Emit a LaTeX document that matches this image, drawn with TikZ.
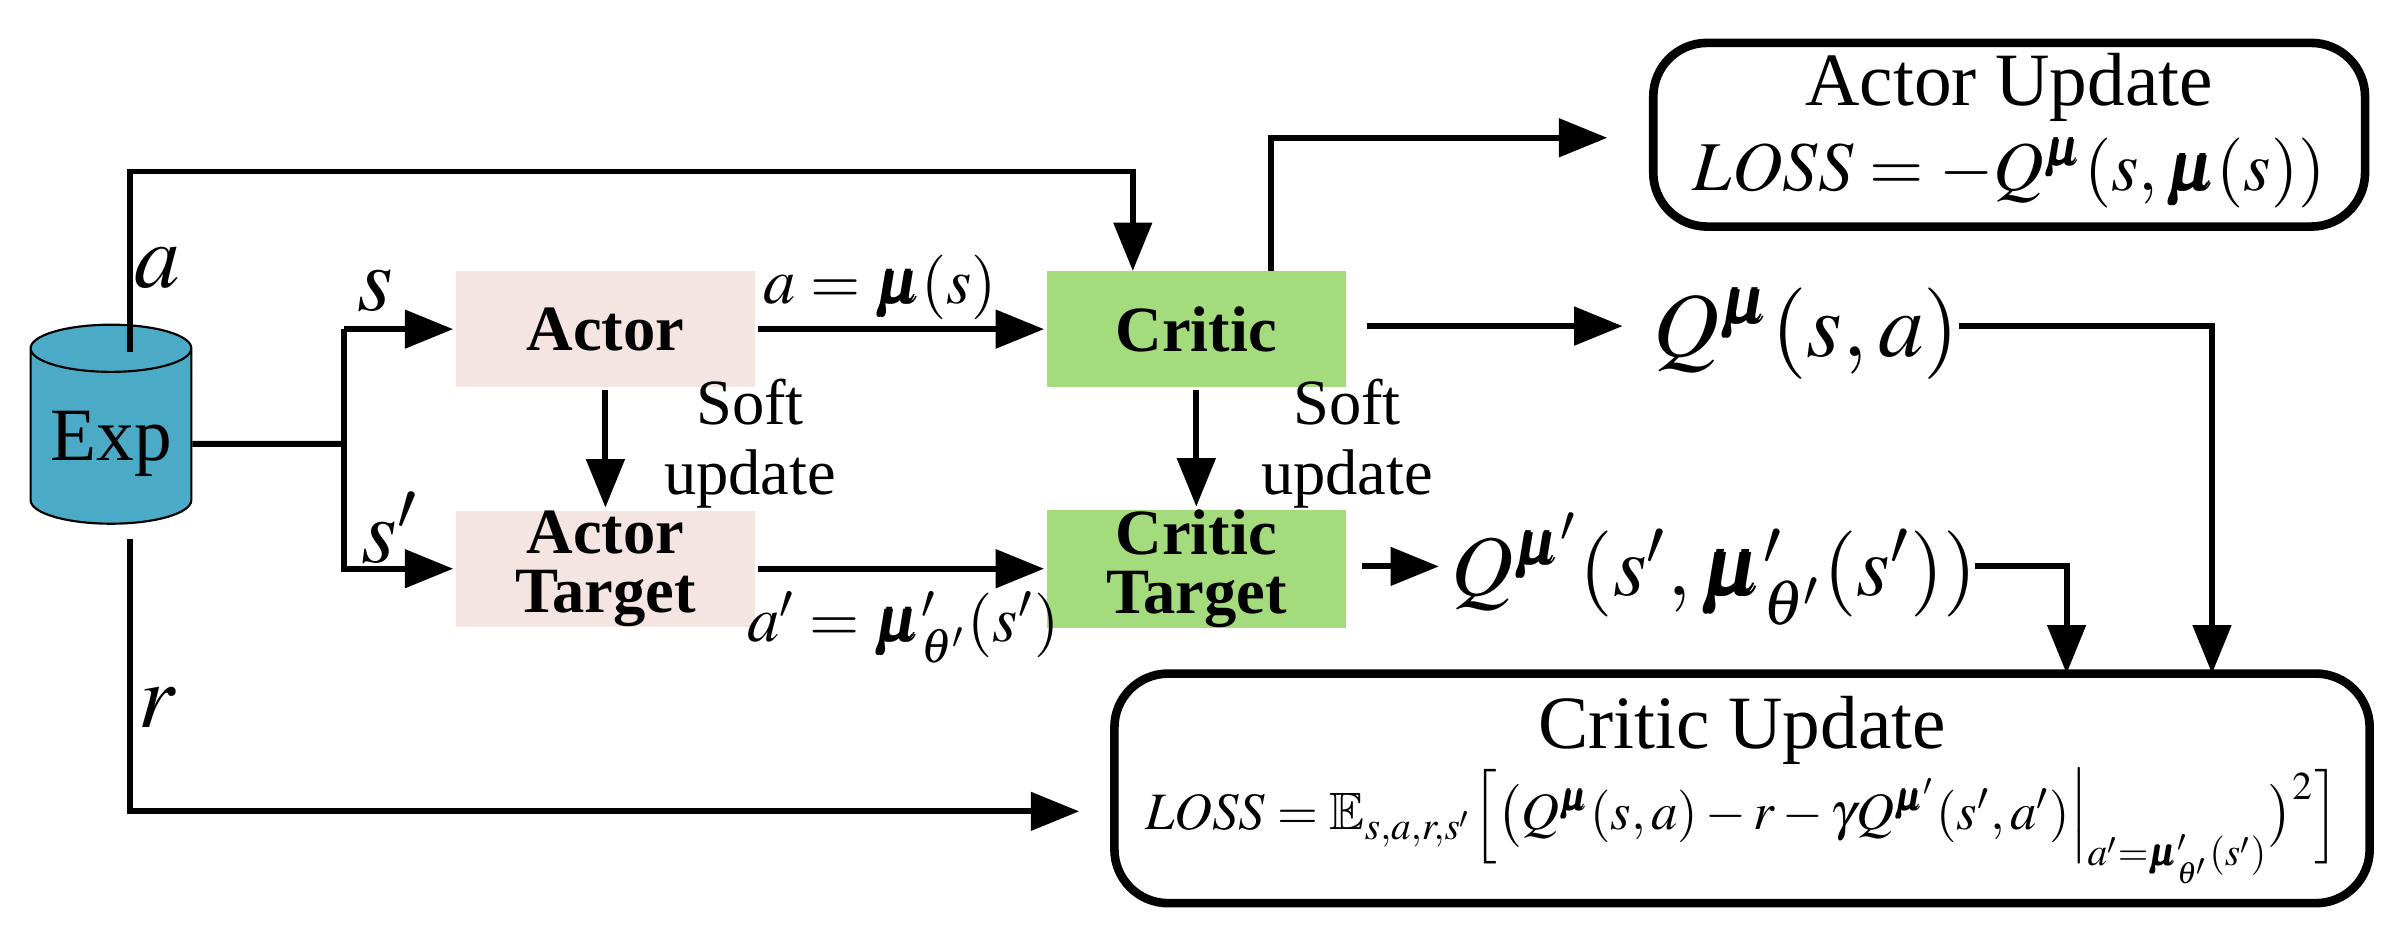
\documentclass[tikz,border=0pt]{standalone}
\usepackage{amsmath,amssymb}
\usepackage{mathptmx}
\usepackage{bm}
\usepackage{graphicx}
\usepackage{fontspec}
\setmainfont{Liberation Serif}
\usetikzlibrary{shapes.geometric,arrows.meta}
\definecolor{pinkb}{HTML}{F4E4E2}
\definecolor{greenb}{HTML}{A4DB7C}
\definecolor{cyl}{HTML}{4BABC6}
\begin{document}
\begin{tikzpicture}[
  line width=1.1pt, >={Triangle[length=9pt,width=7pt]},
  box/.style={minimum width=1.95cm,minimum height=0.76cm,inner sep=0pt,font=\fontsize{12}{13}\selectfont\bfseries,align=center},
  upd/.style={draw,line width=1.6pt,rounded corners=10pt,inner sep=0pt},
  lbl/.style={font=\fontsize{12}{13}\selectfont,align=center},
  big/.style={font=\fontsize{17}{18}\selectfont}]
\useasboundingbox (0,0) rectangle (15.6,-6.05);
% cylinder
\node[cylinder,shape border rotate=90,draw,line width=0.4pt,fill=cyl,aspect=0.3,minimum width=1.05cm,minimum height=1.3cm,font=\fontsize{14}{15}\selectfont] (exp) at (0.725,-2.9) {Exp};
\node[box,fill=pinkb] (actor) at (3.955,-2.15) {Actor};
\node[box,fill=pinkb] (actt) at (3.955,-3.715) {Actor\\[-2pt]Target};
\node[box,fill=greenb] (critic) at (7.815,-2.15) {Critic};
\node[box,fill=greenb] (critt) at (7.815,-3.715) {Critic\\[-2pt]Target};
\node[upd,minimum width=4.65cm,minimum height=1.2cm] (aupd) at (13.125,-0.88) {};
\node[lbl,font=\fontsize{14}{15}\selectfont] (at) at (13.125,-0.57) {Actor Update};
\node[font=\fontsize{13}{14}\selectfont] (af) at (13.125,-1.13) {$LOSS=-Q^{\bm\mu}(s,\bm\mu(s))$};
\node[upd,minimum width=8.2cm,minimum height=1.5cm] (cupd) at (11.38,-5.15) {};
\node[lbl,font=\fontsize{14}{15}\selectfont] (ct) at (11.38,-4.77) {Critic Update};
\node[font=\fontsize{12}{13}\selectfont,inner sep=0pt] (cf) at (11.38,-5.4) {\resizebox{7.8cm}{!}{$LOSS=\mathbb{E}_{s,a,r,s'}\Bigl[\bigl(Q^{\bm\mu}(s,a)-r-\gamma Q^{\bm\mu'}(s',a')\Big|_{a'=\bm\mu'_{\theta'}(s')}\bigr)^2\Bigr]$}};
\node[big] (q1) at (11.8,-2.18) {$Q^{\bm\mu}(s,a)$};
\node[font=\fontsize{16}{17}\selectfont] (q2) at (11.2,-3.72) {$Q^{\bm\mu'}(s',\bm\mu'_{\theta'}(s'))$};
% labels
\node[big] at (1.03,-1.75) {$a$};
\node[big] at (1.03,-4.62) {$r$};
\node[big] at (2.45,-1.9) {$s$};
\node[big] at (2.55,-3.45) {$s'$};
\node[lbl] at (5.75,-1.88) {$a=\bm\mu(s)$};
\node[lbl] at (5.9,-4.1) {$a'=\bm\mu'_{\theta'}(s')$};
\node[lbl] at (4.9,-2.9) {Soft\\update};
\node[lbl] at (8.8,-2.9) {Soft\\update};
\coordinate (br) at (2.25,-2.9);
\draw (exp.east) -- (br);
\draw[->] (2.25,-2.15) -- (actor.west);
\draw[->] (2.25,-2.15) -- (2.25,-3.715) -- (actt.west);
\draw[->] (0.85,-2.3) |- (7.4,-1.12) -- (7.4,-1.77);
\draw[->] (0.85,-3.52) |- (7.05,-5.3);
\draw[->] (actor.east) -- (critic.west);
\draw[->] (actt.east) -- (critt.west);
\draw[->] (actor.south) -- (actt.north);
\draw[->] (critic.south) -- (critt.north);
\draw[->] (8.3,-1.77) |- (10.5,-0.9);
\draw[->] (8.93,-2.13) -- (10.6,-2.13);
\draw[->] (8.9,-3.7) -- (9.4,-3.7);
\draw[->] (12.8,-2.13) -| (14.45,-4.4);
\draw[->] (12.9,-3.7) -| (13.5,-4.4);
\end{tikzpicture}
\end{document}
